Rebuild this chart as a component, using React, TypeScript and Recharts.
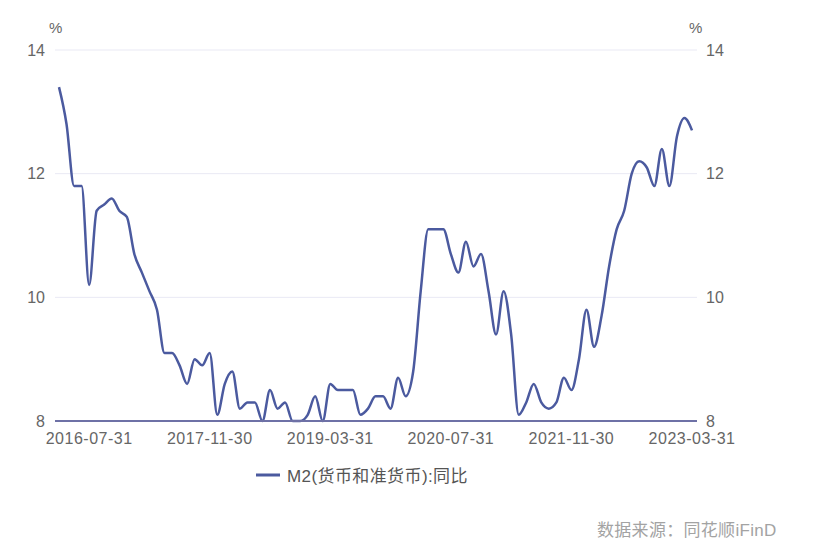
import React from "react";
import { CartesianGrid, Legend, Line, LineChart, XAxis, YAxis } from "recharts";

// M2 同比 (%), monthly, 2016-03 .. 2023-03
const startYear = 2016;
const startMonth = 3;
const m2_2016 = [13.4, 12.8, 11.8, 11.8, 10.2, 11.4, 11.5, 11.6, 11.4, 11.3];
const m2_2017 = [10.7, 10.4, 10.1, 9.8, 9.1, 9.1, 8.9, 8.6, 9.0, 8.9, 9.1, 8.1];
const m2_2018 = [8.6, 8.8, 8.2, 8.3, 8.3, 8.0, 8.5, 8.2, 8.3, 8.0, 8.0, 8.1];
const m2_2019 = [8.4, 8.0, 8.6, 8.5, 8.5, 8.5, 8.1, 8.2, 8.4, 8.4, 8.2, 8.7];
const m2_2020 = [8.4, 8.8, 10.1, 11.1, 11.1, 11.1, 10.7, 10.4, 10.9, 10.5, 10.7, 10.1];
const m2_2021 = [9.4, 10.1, 9.4, 8.1, 8.3, 8.6, 8.3, 8.2, 8.3, 8.7, 8.5, 9.0];
const m2_2022 = [9.8, 9.2, 9.7, 10.5, 11.1, 11.4, 12.0, 12.2, 12.1, 11.8, 12.4, 11.8];
const m2_2023 = [12.6, 12.9, 12.7];

const xTicks = ["2016-07-31", "2017-11-30", "2019-03-31", "2020-07-31", "2021-11-30", "2023-03-31"];
const yTicks = [8, 10, 12, 14];

const seriesName = "M2(货币和准货币):同比";
const sourceText = "数据来源：同花顺iFinD";

const monthEnd = (y: number, m: number) => {
  const d = new Date(Date.UTC(y, m, 0)).getUTCDate();
  return `${y}-${String(m).padStart(2, "0")}-${String(d).padStart(2, "0")}`;
};

const values = [
  ...m2_2016,
  ...m2_2017,
  ...m2_2018,
  ...m2_2019,
  ...m2_2020,
  ...m2_2021,
  ...m2_2022,
  ...m2_2023,
];

const data = values.map((v, i) => {
  const k = startMonth - 1 + i;
  return { date: monthEnd(startYear + Math.floor(k / 12), (k % 12) + 1), m2: v };
});

const FONT = '"Liberation Sans", Arial, "Noto Sans CJK SC", sans-serif';
const LINE_COLOR = "#4b5a9f";

const LegendContent = () => (
  <div style={{ display: "flex", alignItems: "center", fontFamily: FONT }}>
    <svg width={24} height={4} style={{ marginRight: 7 }}>
      <line x1={0} y1={2} x2={24} y2={2} stroke={LINE_COLOR} strokeWidth={3} />
    </svg>
    <span style={{ fontSize: 17, letterSpacing: 0.4, color: "#555" }}>{seriesName}</span>
  </div>
);

export default function App() {
  return (
    <div style={{ position: "absolute", left: 0, top: 0, width: 813, height: 544, background: "#fff" }}>
      <div style={{ position: "absolute", left: 49, top: 19, fontSize: 15, color: "#666", fontFamily: FONT }}>%</div>
      <div style={{ position: "absolute", left: 689, top: 19, fontSize: 15, color: "#666", fontFamily: FONT }}>%</div>
      <LineChart
        width={813}
        height={544}
        data={data}
        margin={{ top: 50, right: 0, bottom: 93, left: 0 }}
        style={{ fontFamily: FONT }}
      >
        <CartesianGrid horizontal vertical={false} stroke="#e9e9f4" yAxisId="left" />
        <XAxis
          dataKey="date"
          ticks={xTicks}
          interval={0}
          height={30}
          padding={{ left: 4, right: 5 }}
          tickLine={false}
          tickSize={0}
          tickMargin={12}
          axisLine={{ stroke: "#6e71a6", strokeWidth: 2 }}
          tick={{ fill: "#666", fontSize: 16, letterSpacing: 0.5 }}
        />
        <YAxis
          yAxisId="left"
          width={55}
          domain={[8, 14]}
          ticks={yTicks}
          axisLine={false}
          tickLine={false}
          tickSize={0}
          tickMargin={10}
          tick={{ fill: "#666", fontSize: 16 }}
        />
        <YAxis
          yAxisId="right"
          orientation="right"
          width={116}
          domain={[8, 14]}
          ticks={yTicks}
          axisLine={false}
          tickLine={false}
          tickSize={0}
          tickMargin={9}
          tick={{ fill: "#666", fontSize: 16, textAnchor: "start" }}
        />
        <Legend
          layout="horizontal"
          verticalAlign="middle"
          align="center"
          wrapperStyle={{ top: 462, left: 256, width: "auto" }}
          content={<LegendContent />}
        />
        {/* invisible copy so the right-hand axis gets its scale */}
        <Line
          yAxisId="right"
          type="monotone"
          dataKey="m2"
          stroke="none"
          dot={false}
          activeDot={false}
          legendType="none"
          isAnimationActive={false}
        />
        <Line
          yAxisId="left"
          type="monotone"
          dataKey="m2"
          name={seriesName}
          stroke={LINE_COLOR}
          strokeWidth={2.5}
          dot={false}
          activeDot={false}
          isAnimationActive={false}
        />
      </LineChart>
      <div
        style={{
          position: "absolute",
          left: 597,
          top: 516,
          fontSize: 17,
          letterSpacing: 0.3,
          color: "#a3a3a3",
          fontFamily: FONT,
          whiteSpace: "nowrap",
        }}
      >
        {sourceText}
      </div>
    </div>
  );
}
